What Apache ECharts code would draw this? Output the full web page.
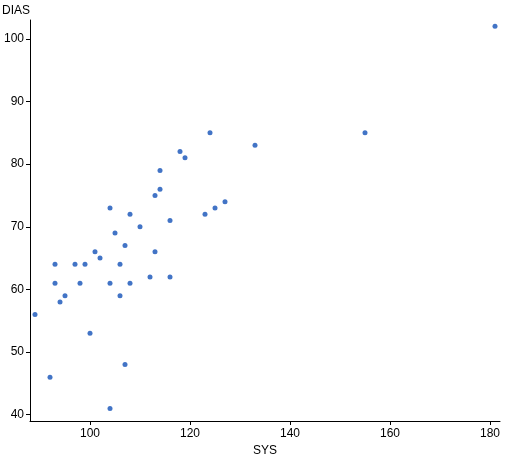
<!DOCTYPE html>
<html>
<head>
<meta charset="utf-8">
<script src="https://cdn.jsdelivr.net/npm/echarts@6/dist/echarts.min.js"></script>
<style>html,body{margin:0;padding:0;background:#fff;}#c{width:517px;height:458px;}</style>
</head>
<body>
<div id="c"></div>
<script>
const sys  = [89,92,93,93,94,95,97,98,99,100,101,102,104,104,104,105,106,106,107,107,108,108,110,112,113,113,114,114,116,116,118,119,123,124,125,127,133,155,181];
const dias = [56,46,64,61,58,59,64,61,64,53,66,65,73,61,41,69,64,59,67,48,72,61,70,62,75,66,79,76,71,62,82,81,72,85,73,74,83,85,102];
const xTicks = [100,120,140,160,180];
const yTicks = [40,50,60,70,80,90,100];

const points = sys.map((v,i)=>[v,dias[i]]);
const font = {fontFamily:'Liberation Sans, Arial, sans-serif', fontSize:12, color:'#000'};
const chart = echarts.init(document.getElementById('c'));
chart.setOption({
  animation:false,
  grid:{left:30,right:17,top:20,bottom:37,containLabel:false,outerBoundsMode:'none'},
  xAxis:{
    type:'value', min:88, max:182,
    name:'SYS', nameLocation:'middle', nameGap:24, nameTextStyle:font,
    axisLine:{show:true,lineStyle:{color:'#000',width:1}},
    axisTick:{show:true,length:4,customValues:xTicks,lineStyle:{color:'#000'}},
    axisLabel:Object.assign({customValues:xTicks,margin:7},font),
    splitLine:{show:false}
  },
  yAxis:{
    type:'value', min:39, max:103,
    name:'DIAS', nameLocation:'end', nameGap:3, nameTextStyle:Object.assign({align:'right'},font),
    axisLine:{show:true,lineStyle:{color:'#000',width:1}},
    axisTick:{show:true,length:4,customValues:yTicks,lineStyle:{color:'#000'}},
    axisLabel:Object.assign({customValues:yTicks,margin:6},font),
    splitLine:{show:false}
  },
  series:[{
    type:'scatter', data:points, symbolSize:5,
    itemStyle:{color:'#4274c6',opacity:1}
  }]
});
</script>
</body>
</html>
